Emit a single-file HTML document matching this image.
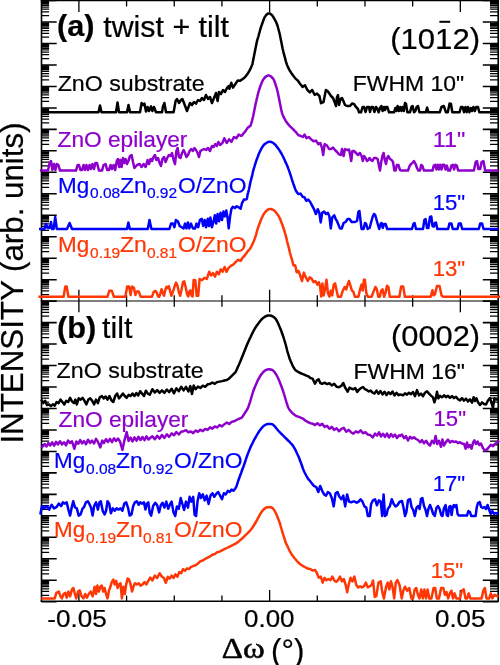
<!DOCTYPE html>
<html><head><meta charset="utf-8"><title>XRD rocking curves</title>
<style>html,body{margin:0;padding:0;background:#fff;overflow:hidden}svg{display:block}</style>
</head><body>
<svg width="500" height="665" viewBox="0 0 500 665" font-family='"Liberation Sans", Arial, Helvetica, sans-serif'>
<path d="M41.50 15.56h7.6M498.20 15.56h-8.2M41.50 11.78h7.6M498.20 11.78h-8.2M41.50 9.09h7.6M498.20 9.09h-8.2M41.50 7.01h7.6M498.20 7.01h-8.2M41.50 5.31h7.6M498.20 5.31h-8.2M41.50 3.88h7.6M498.20 3.88h-8.2M41.50 2.63h7.6M498.20 2.63h-8.2M41.50 1.53h7.6M498.20 1.53h-8.2M41.50 37.03h7.6M498.20 37.03h-8.2M41.50 33.25h7.6M498.20 33.25h-8.2M41.50 30.56h7.6M498.20 30.56h-8.2M41.50 28.48h7.6M498.20 28.48h-8.2M41.50 26.78h7.6M498.20 26.78h-8.2M41.50 25.35h7.6M498.20 25.35h-8.2M41.50 24.10h7.6M498.20 24.10h-8.2M41.50 23.00h7.6M498.20 23.00h-8.2M41.50 58.50h7.6M498.20 58.50h-8.2M41.50 54.72h7.6M498.20 54.72h-8.2M41.50 52.03h7.6M498.20 52.03h-8.2M41.50 49.95h7.6M498.20 49.95h-8.2M41.50 48.25h7.6M498.20 48.25h-8.2M41.50 46.82h7.6M498.20 46.82h-8.2M41.50 45.57h7.6M498.20 45.57h-8.2M41.50 44.47h7.6M498.20 44.47h-8.2M41.50 79.97h7.6M498.20 79.97h-8.2M41.50 76.19h7.6M498.20 76.19h-8.2M41.50 73.50h7.6M498.20 73.50h-8.2M41.50 71.42h7.6M498.20 71.42h-8.2M41.50 69.72h7.6M498.20 69.72h-8.2M41.50 68.29h7.6M498.20 68.29h-8.2M41.50 67.04h7.6M498.20 67.04h-8.2M41.50 65.94h7.6M498.20 65.94h-8.2M41.50 101.44h7.6M498.20 101.44h-8.2M41.50 97.66h7.6M498.20 97.66h-8.2M41.50 94.97h7.6M498.20 94.97h-8.2M41.50 92.89h7.6M498.20 92.89h-8.2M41.50 91.19h7.6M498.20 91.19h-8.2M41.50 89.76h7.6M498.20 89.76h-8.2M41.50 88.51h7.6M498.20 88.51h-8.2M41.50 87.41h7.6M498.20 87.41h-8.2M41.50 122.91h7.6M498.20 122.91h-8.2M41.50 119.13h7.6M498.20 119.13h-8.2M41.50 116.44h7.6M498.20 116.44h-8.2M41.50 114.36h7.6M498.20 114.36h-8.2M41.50 112.66h7.6M498.20 112.66h-8.2M41.50 111.23h7.6M498.20 111.23h-8.2M41.50 109.98h7.6M498.20 109.98h-8.2M41.50 108.88h7.6M498.20 108.88h-8.2M41.50 144.38h7.6M498.20 144.38h-8.2M41.50 140.60h7.6M498.20 140.60h-8.2M41.50 137.91h7.6M498.20 137.91h-8.2M41.50 135.83h7.6M498.20 135.83h-8.2M41.50 134.13h7.6M498.20 134.13h-8.2M41.50 132.70h7.6M498.20 132.70h-8.2M41.50 131.45h7.6M498.20 131.45h-8.2M41.50 130.35h7.6M498.20 130.35h-8.2M41.50 165.85h7.6M498.20 165.85h-8.2M41.50 162.07h7.6M498.20 162.07h-8.2M41.50 159.38h7.6M498.20 159.38h-8.2M41.50 157.30h7.6M498.20 157.30h-8.2M41.50 155.60h7.6M498.20 155.60h-8.2M41.50 154.17h7.6M498.20 154.17h-8.2M41.50 152.92h7.6M498.20 152.92h-8.2M41.50 151.82h7.6M498.20 151.82h-8.2M41.50 187.32h7.6M498.20 187.32h-8.2M41.50 183.54h7.6M498.20 183.54h-8.2M41.50 180.85h7.6M498.20 180.85h-8.2M41.50 178.77h7.6M498.20 178.77h-8.2M41.50 177.07h7.6M498.20 177.07h-8.2M41.50 175.64h7.6M498.20 175.64h-8.2M41.50 174.39h7.6M498.20 174.39h-8.2M41.50 173.29h7.6M498.20 173.29h-8.2M41.50 208.79h7.6M498.20 208.79h-8.2M41.50 205.01h7.6M498.20 205.01h-8.2M41.50 202.32h7.6M498.20 202.32h-8.2M41.50 200.24h7.6M498.20 200.24h-8.2M41.50 198.54h7.6M498.20 198.54h-8.2M41.50 197.11h7.6M498.20 197.11h-8.2M41.50 195.86h7.6M498.20 195.86h-8.2M41.50 194.76h7.6M498.20 194.76h-8.2M41.50 230.26h7.6M498.20 230.26h-8.2M41.50 226.48h7.6M498.20 226.48h-8.2M41.50 223.79h7.6M498.20 223.79h-8.2M41.50 221.71h7.6M498.20 221.71h-8.2M41.50 220.01h7.6M498.20 220.01h-8.2M41.50 218.58h7.6M498.20 218.58h-8.2M41.50 217.33h7.6M498.20 217.33h-8.2M41.50 216.23h7.6M498.20 216.23h-8.2M41.50 251.73h7.6M498.20 251.73h-8.2M41.50 247.95h7.6M498.20 247.95h-8.2M41.50 245.26h7.6M498.20 245.26h-8.2M41.50 243.18h7.6M498.20 243.18h-8.2M41.50 241.48h7.6M498.20 241.48h-8.2M41.50 240.05h7.6M498.20 240.05h-8.2M41.50 238.80h7.6M498.20 238.80h-8.2M41.50 237.70h7.6M498.20 237.70h-8.2M41.50 273.20h7.6M498.20 273.20h-8.2M41.50 269.42h7.6M498.20 269.42h-8.2M41.50 266.73h7.6M498.20 266.73h-8.2M41.50 264.65h7.6M498.20 264.65h-8.2M41.50 262.95h7.6M498.20 262.95h-8.2M41.50 261.52h7.6M498.20 261.52h-8.2M41.50 260.27h7.6M498.20 260.27h-8.2M41.50 259.17h7.6M498.20 259.17h-8.2M41.50 294.67h7.6M498.20 294.67h-8.2M41.50 290.89h7.6M498.20 290.89h-8.2M41.50 288.20h7.6M498.20 288.20h-8.2M41.50 286.12h7.6M498.20 286.12h-8.2M41.50 284.42h7.6M498.20 284.42h-8.2M41.50 282.99h7.6M498.20 282.99h-8.2M41.50 281.74h7.6M498.20 281.74h-8.2M41.50 280.64h7.6M498.20 280.64h-8.2M41.50 316.14h7.6M498.20 316.14h-8.2M41.50 312.36h7.6M498.20 312.36h-8.2M41.50 309.67h7.6M498.20 309.67h-8.2M41.50 307.59h7.6M498.20 307.59h-8.2M41.50 305.89h7.6M498.20 305.89h-8.2M41.50 304.46h7.6M498.20 304.46h-8.2M41.50 303.21h7.6M498.20 303.21h-8.2M41.50 302.11h7.6M498.20 302.11h-8.2M41.50 337.61h7.6M498.20 337.61h-8.2M41.50 333.83h7.6M498.20 333.83h-8.2M41.50 331.14h7.6M498.20 331.14h-8.2M41.50 329.06h7.6M498.20 329.06h-8.2M41.50 327.36h7.6M498.20 327.36h-8.2M41.50 325.93h7.6M498.20 325.93h-8.2M41.50 324.68h7.6M498.20 324.68h-8.2M41.50 323.58h7.6M498.20 323.58h-8.2M41.50 359.08h7.6M498.20 359.08h-8.2M41.50 355.30h7.6M498.20 355.30h-8.2M41.50 352.61h7.6M498.20 352.61h-8.2M41.50 350.53h7.6M498.20 350.53h-8.2M41.50 348.83h7.6M498.20 348.83h-8.2M41.50 347.40h7.6M498.20 347.40h-8.2M41.50 346.15h7.6M498.20 346.15h-8.2M41.50 345.05h7.6M498.20 345.05h-8.2M41.50 380.55h7.6M498.20 380.55h-8.2M41.50 376.77h7.6M498.20 376.77h-8.2M41.50 374.08h7.6M498.20 374.08h-8.2M41.50 372.00h7.6M498.20 372.00h-8.2M41.50 370.30h7.6M498.20 370.30h-8.2M41.50 368.87h7.6M498.20 368.87h-8.2M41.50 367.62h7.6M498.20 367.62h-8.2M41.50 366.52h7.6M498.20 366.52h-8.2M41.50 402.02h7.6M498.20 402.02h-8.2M41.50 398.24h7.6M498.20 398.24h-8.2M41.50 395.55h7.6M498.20 395.55h-8.2M41.50 393.47h7.6M498.20 393.47h-8.2M41.50 391.77h7.6M498.20 391.77h-8.2M41.50 390.34h7.6M498.20 390.34h-8.2M41.50 389.09h7.6M498.20 389.09h-8.2M41.50 387.99h7.6M498.20 387.99h-8.2M41.50 423.49h7.6M498.20 423.49h-8.2M41.50 419.71h7.6M498.20 419.71h-8.2M41.50 417.02h7.6M498.20 417.02h-8.2M41.50 414.94h7.6M498.20 414.94h-8.2M41.50 413.24h7.6M498.20 413.24h-8.2M41.50 411.81h7.6M498.20 411.81h-8.2M41.50 410.56h7.6M498.20 410.56h-8.2M41.50 409.46h7.6M498.20 409.46h-8.2M41.50 444.96h7.6M498.20 444.96h-8.2M41.50 441.18h7.6M498.20 441.18h-8.2M41.50 438.49h7.6M498.20 438.49h-8.2M41.50 436.41h7.6M498.20 436.41h-8.2M41.50 434.71h7.6M498.20 434.71h-8.2M41.50 433.28h7.6M498.20 433.28h-8.2M41.50 432.03h7.6M498.20 432.03h-8.2M41.50 430.93h7.6M498.20 430.93h-8.2M41.50 466.43h7.6M498.20 466.43h-8.2M41.50 462.65h7.6M498.20 462.65h-8.2M41.50 459.96h7.6M498.20 459.96h-8.2M41.50 457.88h7.6M498.20 457.88h-8.2M41.50 456.18h7.6M498.20 456.18h-8.2M41.50 454.75h7.6M498.20 454.75h-8.2M41.50 453.50h7.6M498.20 453.50h-8.2M41.50 452.40h7.6M498.20 452.40h-8.2M41.50 487.90h7.6M498.20 487.90h-8.2M41.50 484.12h7.6M498.20 484.12h-8.2M41.50 481.43h7.6M498.20 481.43h-8.2M41.50 479.35h7.6M498.20 479.35h-8.2M41.50 477.65h7.6M498.20 477.65h-8.2M41.50 476.22h7.6M498.20 476.22h-8.2M41.50 474.97h7.6M498.20 474.97h-8.2M41.50 473.87h7.6M498.20 473.87h-8.2M41.50 509.37h7.6M498.20 509.37h-8.2M41.50 505.59h7.6M498.20 505.59h-8.2M41.50 502.90h7.6M498.20 502.90h-8.2M41.50 500.82h7.6M498.20 500.82h-8.2M41.50 499.12h7.6M498.20 499.12h-8.2M41.50 497.69h7.6M498.20 497.69h-8.2M41.50 496.44h7.6M498.20 496.44h-8.2M41.50 495.34h7.6M498.20 495.34h-8.2M41.50 530.84h7.6M498.20 530.84h-8.2M41.50 527.06h7.6M498.20 527.06h-8.2M41.50 524.37h7.6M498.20 524.37h-8.2M41.50 522.29h7.6M498.20 522.29h-8.2M41.50 520.59h7.6M498.20 520.59h-8.2M41.50 519.16h7.6M498.20 519.16h-8.2M41.50 517.91h7.6M498.20 517.91h-8.2M41.50 516.81h7.6M498.20 516.81h-8.2M41.50 552.31h7.6M498.20 552.31h-8.2M41.50 548.53h7.6M498.20 548.53h-8.2M41.50 545.84h7.6M498.20 545.84h-8.2M41.50 543.76h7.6M498.20 543.76h-8.2M41.50 542.06h7.6M498.20 542.06h-8.2M41.50 540.63h7.6M498.20 540.63h-8.2M41.50 539.38h7.6M498.20 539.38h-8.2M41.50 538.28h7.6M498.20 538.28h-8.2M41.50 573.78h7.6M498.20 573.78h-8.2M41.50 570.00h7.6M498.20 570.00h-8.2M41.50 567.31h7.6M498.20 567.31h-8.2M41.50 565.23h7.6M498.20 565.23h-8.2M41.50 563.53h7.6M498.20 563.53h-8.2M41.50 562.10h7.6M498.20 562.10h-8.2M41.50 560.85h7.6M498.20 560.85h-8.2M41.50 559.75h7.6M498.20 559.75h-8.2M41.50 595.25h7.6M498.20 595.25h-8.2M41.50 591.47h7.6M498.20 591.47h-8.2M41.50 588.78h7.6M498.20 588.78h-8.2M41.50 586.70h7.6M498.20 586.70h-8.2M41.50 585.00h7.6M498.20 585.00h-8.2M41.50 583.57h7.6M498.20 583.57h-8.2M41.50 582.32h7.6M498.20 582.32h-8.2M41.50 581.22h7.6M498.20 581.22h-8.2" stroke="#000" stroke-width="1.25" fill="none"/>
<path d="M41.50 0.55h15.2M498.20 0.55h-15.4M41.50 22.02h15.2M498.20 22.02h-15.4M41.50 43.49h15.2M498.20 43.49h-15.4M41.50 64.96h15.2M498.20 64.96h-15.4M41.50 86.43h15.2M498.20 86.43h-15.4M41.50 107.90h15.2M498.20 107.90h-15.4M41.50 129.37h15.2M498.20 129.37h-15.4M41.50 150.84h15.2M498.20 150.84h-15.4M41.50 172.31h15.2M498.20 172.31h-15.4M41.50 193.78h15.2M498.20 193.78h-15.4M41.50 215.25h15.2M498.20 215.25h-15.4M41.50 236.72h15.2M498.20 236.72h-15.4M41.50 258.19h15.2M498.20 258.19h-15.4M41.50 279.66h15.2M498.20 279.66h-15.4M41.50 301.13h15.2M498.20 301.13h-15.4M41.50 322.60h15.2M498.20 322.60h-15.4M41.50 344.07h15.2M498.20 344.07h-15.4M41.50 365.54h15.2M498.20 365.54h-15.4M41.50 387.01h15.2M498.20 387.01h-15.4M41.50 408.48h15.2M498.20 408.48h-15.4M41.50 429.95h15.2M498.20 429.95h-15.4M41.50 451.42h15.2M498.20 451.42h-15.4M41.50 472.89h15.2M498.20 472.89h-15.4M41.50 494.36h15.2M498.20 494.36h-15.4M41.50 515.83h15.2M498.20 515.83h-15.4M41.50 537.30h15.2M498.20 537.30h-15.4M41.50 558.77h15.2M498.20 558.77h-15.4M41.50 580.24h15.2M498.20 580.24h-15.4M41.50 601.71h15.2M498.20 601.71h-15.4" stroke="#000" stroke-width="1.55" fill="none"/>
<path d="M78.90 0v11.9M78.90 289.70v22.6M78.90 601.30v-11.3M126.58 0v6.4M126.58 295.20v11.6M126.58 601.30v-5.8M174.26 0v6.4M174.26 295.20v11.6M174.26 601.30v-5.8M221.94 0v6.4M221.94 295.20v11.6M221.94 601.30v-5.8M269.62 0v11.9M269.62 289.70v22.6M269.62 601.30v-11.3M317.30 0v6.4M317.30 295.20v11.6M317.30 601.30v-5.8M364.98 0v6.4M364.98 295.20v11.6M364.98 601.30v-5.8M412.66 0v6.4M412.66 295.20v11.6M412.66 601.30v-5.8M460.34 0v11.9M460.34 289.70v22.6M460.34 601.30v-11.3" stroke="#000" stroke-width="1.3" fill="none"/>
<path d="M41.5 0V602.05M498.2 0V602.05" stroke="#000" stroke-width="1.6" fill="none"/>
<path d="M40.7 0.6H499.0" stroke="#000" stroke-width="1.3" fill="none"/>
<path d="M40.7 301.0H499.0" stroke="#000" stroke-width="1.2" fill="none"/>
<path d="M40.7 601.3H499.0" stroke="#000" stroke-width="1.5" fill="none"/>
<polyline points="41.0,112.3 98.5,112.3 100.0,105.5 101.5,112.3 116.0,112.3 117.5,102.5 119.0,112.3 127.0,112.3 128.5,105.0 130.0,112.3 140.0,112.3 141.6,103.0 143.0,105.0 144.4,103.6 146.0,111.6 147.6,107.0 149.0,111.0 151.0,106.4 152.4,111.0 154.0,107.0 156.0,112.3 162.0,112.3 163.0,106.4 164.4,103.0 166.0,112.3 173.6,112.3 175.6,101.0 177.0,99.0 179.0,103.0 181.0,100.0 182.4,99.0 184.0,103.0 187.0,111.0 190.0,103.0 192.0,105.0 194.0,102.0 196.0,103.6 198.0,100.0 200.0,101.0 202.0,98.0 204.0,100.0 206.0,95.0 208.0,99.0 210.0,97.0 212.0,103.0 214.0,98.0 216.0,93.0 217.6,101.0 219.0,92.0 221.0,94.0 223.0,90.0 225.0,92.0 227.0,88.0 229.0,86.0 229.4,88.8 231.3,82.8 233.0,87.6 235.4,84.0 237.8,80.4 240.2,80.7 241.1,80.1 242.3,79.3 243.7,78.3 245.0,77.1 246.1,75.8 247.2,74.2 248.3,72.7 249.2,71.1 250.0,69.6 250.8,68.1 251.4,66.6 252.0,65.1 252.5,63.6 252.8,62.1 253.1,60.6 253.4,59.1 253.7,57.6 254.0,56.1 254.3,54.6 254.6,53.1 254.9,51.6 255.2,50.1 255.5,48.6 255.8,47.1 256.1,45.6 256.4,44.1 256.7,42.6 257.0,41.1 257.4,39.6 257.9,38.1 258.4,36.5 258.8,35.0 259.2,33.5 259.6,32.0 260.0,30.5 260.4,29.0 260.9,27.5 261.3,26.0 261.9,24.5 262.4,23.0 263.0,21.4 263.6,19.8 264.2,18.3 264.8,17.0 265.4,16.1 265.9,15.3 266.5,14.8 267.0,14.3 267.5,13.9 268.0,13.6 268.5,13.5 269.0,13.4 269.5,13.5 270.0,13.6 270.5,13.9 271.0,14.3 271.5,14.8 272.1,15.3 272.7,16.1 273.3,17.0 274.1,18.3 274.9,19.8 275.8,21.4 276.5,23.0 277.1,24.5 277.6,26.0 278.0,27.5 278.4,29.0 278.8,30.5 279.2,32.0 279.6,33.5 279.9,35.0 280.2,36.5 280.5,38.0 280.8,39.6 281.1,41.1 281.4,42.6 281.7,44.1 282.0,45.6 282.3,47.1 282.6,48.6 283.0,50.1 283.3,51.6 283.7,53.1 284.1,54.6 284.5,56.1 284.9,57.6 285.3,59.1 285.7,60.6 286.1,62.1 286.6,63.6 287.1,65.1 287.7,66.6 288.5,68.1 289.2,69.6 290.1,71.1 291.1,72.7 292.2,74.2 293.3,75.8 294.3,77.1 295.3,78.3 296.4,79.3 297.3,80.1 297.9,80.7 300.2,84.0 302.6,86.9 305.0,85.2 307.4,90.0 309.8,92.4 312.2,90.0 314.6,94.8 317.0,93.6 319.4,96.0 321.0,103.2 323.5,102.0 325.9,90.0 327.8,91.2 329.0,93.0 331.0,96.0 333.0,98.0 335.0,103.0 336.0,106.0 337.0,97.0 338.0,95.0 339.0,105.0 340.6,99.0 342.0,98.0 343.4,101.0 345.0,105.0 347.0,106.0 350.0,106.0 352.0,103.6 354.0,104.0 356.0,107.0 358.0,109.0 359.0,112.3 361.0,112.3 362.6,107.0 364.0,107.0 365.6,112.0 367.0,107.0 369.0,107.0 370.0,112.0 371.4,107.0 373.0,107.0 374.4,112.0 376.0,107.0 377.4,109.0 378.6,112.3 380.0,108.0 381.4,106.0 382.6,111.0 384.0,107.0 385.0,110.0 386.0,107.0 387.4,107.0 389.0,112.3 394.0,112.3 395.4,108.0 396.6,111.0 397.6,106.0 399.0,111.0 400.2,107.0 401.4,111.0 402.6,107.0 403.8,111.0 405.0,103.0 406.0,104.0 407.4,112.3 410.0,112.3 411.4,107.0 412.6,106.0 414.0,112.3 415.4,111.0 416.6,107.0 418.0,106.0 419.4,112.3 425.8,112.3 427.1,107.5 428.4,112.3 439.7,112.3 441.5,107.0 443.8,106.0 446.0,112.3 447.8,112.3 449.6,103.5 451.0,104.0 452.3,112.3 459.5,112.3 461.0,107.0 462.6,107.0 464.0,112.3 465.4,107.0 466.7,112.3 468.0,107.0 469.4,112.3 470.8,108.0 472.0,111.0 473.4,107.0 474.8,111.0 476.2,107.0 478.0,107.0 479.3,112.3 498.0,112.3" fill="none" stroke="#000000" stroke-width="2.5" stroke-linejoin="round" stroke-linecap="butt"/>
<polyline points="40.0,170.6 48.0,170.6 49.6,163.0 51.0,161.0 52.4,170.0 54.0,164.0 55.4,170.0 56.8,164.0 58.4,165.0 60.0,170.6 76.0,170.6 77.6,165.0 79.0,165.0 80.4,170.0 82.0,170.0 83.6,165.0 85.0,170.0 86.4,165.0 88.0,170.0 89.6,165.0 91.0,169.0 92.4,164.0 94.0,169.0 95.4,163.0 97.0,163.0 99.0,170.6 102.0,170.6 103.6,165.0 105.6,164.0 107.2,170.0 109.0,170.0 110.6,165.0 112.0,169.0 113.6,165.0 115.2,170.0 116.8,161.0 118.0,159.0 119.2,167.0 120.4,160.0 121.6,167.0 123.0,158.0 124.4,163.0 125.6,159.0 127.0,164.0 128.4,161.0 130.0,156.0 131.6,155.0 133.0,162.0 134.4,168.0 137.0,165.0 139.6,164.0 141.6,167.0 143.6,164.0 145.6,167.0 147.6,160.0 149.0,164.0 150.6,159.0 152.0,161.0 153.6,157.0 155.0,155.0 156.4,160.0 158.0,158.0 159.6,163.0 161.0,166.0 162.4,159.0 164.0,157.0 165.6,162.0 167.2,158.0 168.8,155.0 170.4,156.0 172.0,153.0 173.6,160.0 175.0,164.0 176.4,151.0 177.6,148.0 179.0,157.0 180.4,158.0 182.0,153.0 183.6,150.0 185.0,153.0 186.4,157.0 188.0,155.0 189.6,151.0 191.2,149.0 192.8,151.0 194.4,148.0 196.0,150.0 197.6,153.0 199.0,157.0 200.4,151.0 202.0,150.0 204.0,149.0 206.0,150.0 208.0,148.0 210.0,151.0 212.0,146.0 213.6,147.0 215.2,144.0 216.8,146.0 218.4,142.0 220.0,145.0 222.4,143.0 224.3,138.2 226.7,143.0 229.1,139.4 231.5,141.8 233.9,137.0 236.3,138.2 238.7,134.6 241.1,135.8 242.0,135.3 242.6,134.7 243.3,133.7 244.2,132.7 245.0,131.7 245.7,130.8 246.3,129.8 246.9,128.9 247.4,128.1 247.9,127.6 248.4,127.2 248.8,126.9 249.2,126.6 249.5,126.4 249.8,126.3 250.1,126.1 250.4,125.7 250.7,125.0 251.0,124.2 251.3,123.2 251.6,122.1 252.0,120.8 252.4,119.2 252.8,117.7 253.2,116.1 253.5,114.6 253.8,113.1 254.1,111.6 254.4,110.1 254.7,108.6 255.0,107.1 255.3,105.6 255.6,104.1 255.9,102.6 256.3,101.0 256.6,99.5 257.0,98.0 257.4,96.5 257.7,95.0 258.1,93.5 258.5,92.0 258.9,90.5 259.4,89.0 259.9,87.5 260.4,86.0 261.0,84.4 261.7,82.8 262.4,81.2 263.0,80.0 263.5,79.1 264.0,78.5 264.4,78.1 264.8,77.6 265.2,77.1 265.7,76.7 266.1,76.4 266.6,76.1 267.1,75.9 267.5,75.7 268.0,75.5 268.5,75.5 269.0,75.5 269.5,75.7 269.9,75.9 270.4,76.1 270.8,76.4 271.3,76.7 271.7,77.1 272.1,77.6 272.5,78.1 273.0,78.5 273.4,79.1 273.9,80.0 274.4,81.2 275.0,82.8 275.5,84.4 276.0,86.0 276.5,87.5 276.9,89.0 277.3,90.5 277.7,92.0 278.0,93.5 278.3,95.0 278.6,96.5 278.9,98.0 279.2,99.5 279.5,101.0 279.8,102.6 280.1,104.1 280.4,105.6 280.7,107.1 281.0,108.6 281.3,110.1 281.7,111.6 282.1,113.1 282.6,114.6 283.2,116.1 283.9,117.7 284.8,119.2 285.7,120.8 286.5,122.1 287.3,123.2 288.1,124.1 288.8,124.9 289.5,125.7 290.1,126.4 290.7,126.9 291.2,127.4 291.9,128.1 292.7,128.9 293.7,129.8 294.6,130.8 295.5,131.7 296.4,132.7 297.2,133.7 298.0,134.7 298.5,135.3 300.4,135.8 302.8,137.0 304.5,134.6 306.4,138.2 308.8,137.0 311.2,139.4 313.6,141.3 316.0,140.6 318.4,144.2 320.3,143.0 322.0,147.8 323.2,155.0 324.6,144.2 326.8,145.4 329.2,149.0 331.0,149.0 333.0,147.6 335.0,150.0 337.0,152.0 339.0,154.4 341.0,155.0 342.0,149.0 343.6,156.0 345.0,149.0 347.0,150.0 349.0,149.6 350.0,154.0 351.2,161.0 352.4,151.0 354.0,151.0 356.0,153.0 358.0,155.0 360.0,153.0 361.6,156.0 362.8,161.0 364.0,156.0 365.6,158.0 367.0,161.0 368.4,160.0 369.6,158.0 371.0,160.0 372.4,161.0 374.0,158.0 376.0,158.0 377.6,159.0 378.8,165.0 380.0,170.6 381.2,162.0 382.4,156.0 383.6,153.0 384.8,160.0 386.0,164.0 387.2,158.0 388.4,156.0 390.0,159.0 391.6,160.0 393.0,162.0 394.4,170.6 395.6,170.6 396.8,165.0 398.4,165.0 400.0,170.0 401.6,170.6 408.0,170.6 409.6,166.0 411.0,164.0 412.4,163.0 414.0,161.0 415.6,164.0 417.0,168.0 418.4,170.6 420.0,170.6 421.2,165.0 422.4,166.0 424.0,170.6 432.5,170.6 433.8,165.6 435.2,164.7 436.5,169.5 437.7,164.7 439.0,169.5 440.2,164.7 441.5,169.5 442.8,164.7 444.2,164.7 445.5,169.5 446.9,165.6 448.2,170.6 450.0,170.6 451.4,165.6 452.8,164.7 454.1,169.5 455.4,164.7 456.8,165.6 458.2,170.6 473.9,170.6 475.7,162.0 477.0,161.0 478.4,169.0 480.2,169.0 481.6,162.0 483.4,161.0 485.2,170.6 498.5,170.6" fill="none" stroke="#8e00cc" stroke-width="2.5" stroke-linejoin="round" stroke-linecap="butt"/>
<polyline points="39.0,229.0 44.4,229.0 46.0,224.0 47.6,228.0 49.6,228.0 51.0,222.0 52.0,229.0 53.6,229.0 55.2,217.0 56.8,229.0 67.0,229.0 69.6,223.0 72.0,229.0 127.0,229.0 128.4,222.6 129.8,229.0 147.8,229.0 149.5,220.0 151.4,229.0 169.4,229.0 171.0,223.6 173.0,223.6 174.4,227.2 175.9,220.0 177.8,221.2 179.7,226.0 181.6,227.2 183.6,228.4 185.0,223.6 186.4,228.4 187.9,222.4 189.3,228.4 191.0,223.6 192.9,228.4 195.1,228.4 196.5,223.6 198.2,227.2 199.9,220.0 201.8,218.8 203.2,226.0 204.7,220.0 206.1,227.2 207.8,218.8 209.0,226.0 210.4,217.6 211.9,227.2 213.3,222.4 214.8,215.2 216.2,223.6 217.6,214.0 219.1,221.2 220.5,212.8 222.0,220.0 223.4,211.6 224.8,216.4 226.3,210.4 227.7,218.8 228.7,228.4 230.1,216.4 231.4,209.0 232.9,206.8 234.8,208.0 236.7,206.3 238.6,207.3 240.6,208.7 242.0,203.2 243.9,199.6 245.6,199.6 246.8,198.9 247.0,198.0 247.2,196.7 247.5,195.2 247.7,194.1 247.9,193.4 248.1,192.8 248.2,192.3 248.4,191.7 248.6,190.9 248.8,190.1 249.0,189.2 249.2,188.1 249.5,186.8 249.8,185.2 250.1,183.7 250.4,182.1 250.8,180.6 251.2,179.1 251.6,177.6 252.0,176.1 252.4,174.6 252.7,173.1 253.0,171.6 253.4,170.1 253.8,168.6 254.3,167.1 254.7,165.6 255.2,164.1 255.7,162.6 256.2,161.0 256.7,159.5 257.3,158.0 257.9,156.5 258.4,155.0 259.0,153.5 259.7,152.0 260.5,150.4 261.3,148.8 262.2,147.2 263.0,146.0 263.7,145.1 264.3,144.5 264.8,144.0 265.4,143.6 266.0,143.2 266.5,142.8 267.1,142.5 267.6,142.2 268.1,142.0 268.6,141.9 269.1,141.8 269.6,141.8 270.1,141.8 270.7,141.9 271.3,142.0 271.8,142.2 272.3,142.5 272.8,142.8 273.4,143.2 273.9,143.6 274.4,144.0 275.0,144.5 275.6,145.1 276.3,146.0 277.2,147.2 278.4,148.8 279.5,150.4 280.5,152.0 281.4,153.5 282.2,155.0 283.0,156.5 283.7,158.0 284.4,159.5 285.1,161.1 285.8,162.6 286.5,164.1 287.1,165.6 287.8,167.1 288.3,168.6 288.9,170.1 289.4,171.6 289.9,173.1 290.4,174.6 290.9,176.1 291.4,177.6 291.8,179.1 292.3,180.6 292.8,182.1 293.3,183.7 293.9,185.2 294.4,186.8 294.9,188.1 295.3,189.2 295.7,190.1 296.1,190.9 296.5,191.7 297.0,192.4 297.6,193.1 298.1,193.7 298.5,194.1 300.6,193.6 302.5,196.7 304.4,197.2 306.3,200.8 308.2,199.6 310.2,202.0 312.1,205.6 314.0,209.2 315.9,214.0 317.8,209.2 319.3,212.8 320.7,222.4 322.2,212.8 324.1,211.6 326.0,214.0 327.9,212.8 329.4,216.4 330.8,228.4 332.2,217.6 334.2,215.2 335.6,218.8 337.0,221.2 338.5,224.8 339.9,228.4 341.8,228.4 343.6,223.0 345.6,222.0 347.6,219.0 349.6,219.0 351.6,222.0 355.0,222.0 357.0,221.0 358.4,212.0 359.4,211.0 360.6,221.0 361.6,229.0 363.6,229.0 365.0,223.0 366.2,224.0 367.6,229.0 369.6,228.0 371.2,222.0 372.6,217.0 374.0,214.0 375.2,215.0 376.6,220.0 378.0,225.0 379.2,229.0 380.6,224.0 381.6,223.0 382.8,228.0 384.0,224.0 385.6,224.0 387.2,229.0 412.0,229.0 413.4,224.0 414.6,223.0 416.0,229.0 423.0,229.0 424.4,220.0 425.6,219.0 427.0,228.0 428.4,228.0 430.0,217.0 431.3,216.5 432.5,226.0 433.8,226.5 434.8,223.0 436.0,222.6 437.3,229.0 448.1,229.0 449.5,223.4 451.4,223.4 452.8,229.0 457.5,229.0 458.9,223.4 460.7,223.4 462.2,229.0 478.8,229.0 480.2,223.4 482.0,223.4 483.5,229.0 498.3,229.0" fill="none" stroke="#0000fa" stroke-width="2.5" stroke-linejoin="round" stroke-linecap="butt"/>
<polyline points="38.4,296.7 63.6,296.7 65.3,286.6 66.7,286.6 68.4,296.7 107.5,296.7 109.4,290.7 111.8,290.7 113.8,296.7 125.3,296.7 127.2,286.6 129.1,286.6 130.6,295.0 132.0,286.6 133.9,287.8 135.4,295.0 136.8,291.4 138.7,291.4 140.6,296.7 152.0,296.7 153.8,291.6 155.6,291.0 156.8,292.8 158.0,296.4 159.2,296.7 160.4,293.4 161.6,289.2 162.8,292.8 164.0,295.8 165.2,290.4 166.4,286.8 167.6,288.0 168.8,286.2 170.0,290.4 171.4,295.8 173.0,291.6 174.8,285.6 176.0,282.6 177.4,285.6 179.0,292.8 180.2,295.8 181.4,290.4 183.0,282.0 184.2,281.4 185.6,286.8 187.0,294.0 188.2,296.4 189.4,291.6 190.4,290.4 191.6,295.8 192.6,296.4 193.6,280.0 195.3,280.2 196.7,295.8 198.2,295.8 199.6,279.0 202.0,280.2 204.4,277.8 206.8,279.0 209.2,271.8 211.1,275.4 213.0,273.0 215.0,276.6 216.9,271.8 218.8,274.2 220.7,269.4 222.6,271.8 224.6,267.0 226.5,271.8 228.4,268.2 230.8,265.8 233.2,264.6 235.6,262.2 238.0,259.8 239.0,260.1 239.3,260.3 239.8,260.6 240.3,260.8 240.8,260.7 241.2,260.3 241.5,259.6 241.8,258.8 242.2,258.2 242.6,257.7 243.0,257.3 243.4,256.9 243.8,256.5 244.1,256.2 244.2,256.0 244.5,255.8 244.8,255.3 245.3,254.6 246.0,253.7 246.7,252.7 247.4,251.7 248.1,250.9 248.9,250.0 249.6,249.2 250.4,248.1 251.2,246.8 251.9,245.2 252.7,243.7 253.4,242.1 254.0,240.6 254.6,239.1 255.1,237.6 255.6,236.1 256.1,234.6 256.5,233.0 256.9,231.5 257.3,230.0 257.8,228.5 258.3,227.0 258.8,225.5 259.4,224.0 260.0,222.4 260.6,220.8 261.2,219.3 261.8,218.0 262.3,216.9 262.7,216.0 263.1,215.2 263.6,214.4 264.2,213.4 265.0,212.5 265.7,211.5 266.4,210.8 267.0,210.3 267.5,209.9 267.9,209.6 268.4,209.4 268.9,209.2 269.3,209.1 269.7,209.0 270.2,209.0 270.7,209.0 271.2,209.1 271.8,209.3 272.3,209.5 272.8,209.7 273.3,210.0 273.9,210.3 274.5,210.8 275.2,211.5 276.0,212.5 276.8,213.4 277.5,214.4 278.1,215.2 278.6,216.0 279.1,216.9 279.6,218.0 280.2,219.3 280.8,220.8 281.4,222.4 282.0,224.0 282.6,225.5 283.1,227.0 283.6,228.5 284.1,230.0 284.6,231.5 285.0,233.1 285.5,234.6 285.9,236.1 286.3,237.6 286.6,239.1 286.9,240.6 287.3,242.1 287.7,243.7 288.1,245.2 288.6,246.8 288.9,248.1 289.2,249.2 289.3,250.1 289.5,250.9 289.7,251.7 289.9,252.6 290.2,253.6 290.5,254.5 290.7,255.3 290.9,256.0 291.1,256.6 291.2,257.1 291.4,257.7 291.6,258.2 291.7,258.8 291.9,259.3 292.1,260.1 292.4,261.2 292.7,262.6 293.0,264.0 293.3,264.9 293.5,265.3 293.8,265.4 294.0,265.3 294.2,265.3 294.5,265.3 294.8,265.3 295.1,265.4 295.4,266.0 295.7,267.3 296.0,269.2 296.3,271.0 296.7,272.1 297.2,272.3 297.7,271.9 298.2,271.3 298.5,270.9 300.1,275.0 302.0,281.0 303.9,272.6 305.8,277.4 307.8,281.0 309.7,277.4 311.6,278.6 313.5,282.2 315.4,281.0 317.4,284.6 318.8,282.2 320.2,287.0 321.2,296.6 322.4,283.4 323.6,295.4 325.0,289.4 326.5,279.8 327.9,293.0 329.4,296.6 330.8,290.6 332.2,295.4 333.7,284.6 335.1,283.4 336.6,290.6 338.0,296.7 340.9,296.7 342.8,290.6 344.7,287.0 346.2,289.4 347.6,284.6 349.0,281.0 350.5,285.8 351.9,290.6 353.4,291.8 354.8,296.7 358.4,296.7 360.1,289.4 361.5,284.6 362.7,290.6 363.9,279.8 364.9,279.8 366.3,293.0 367.8,296.7 371.6,296.7 373.5,291.8 375.4,287.0 376.9,289.4 378.3,296.7 379.8,296.7 381.2,290.6 382.6,289.4 384.1,296.7 385.5,293.0 387.0,285.8 388.4,287.0 389.8,296.7 399.4,296.7 401.1,286.6 403.2,286.6 404.9,296.7 430.7,296.7 432.4,290.2 433.7,295.4 434.9,294.4 437.0,286.0 439.5,286.0 441.6,295.4 443.3,296.7 500.0,296.7" fill="none" stroke="#ff3705" stroke-width="2.5" stroke-linejoin="round" stroke-linecap="butt"/>
<polyline points="41.3,399.6 43.2,403.2 45.1,400.8 47.0,405.1 49.0,404.4 50.9,406.1 52.8,404.4 54.7,405.6 56.6,402.0 58.6,403.2 60.5,399.6 62.4,402.0 64.3,404.4 66.2,400.8 68.2,402.0 70.1,397.9 72.0,401.3 73.9,403.2 75.4,399.6 76.8,404.4 78.7,398.4 80.6,399.6 82.6,397.9 84.5,400.8 86.4,404.4 88.3,399.6 90.2,398.4 92.2,400.8 94.1,404.4 96.0,399.6 97.9,403.2 99.8,397.2 101.8,396.0 103.7,398.4 105.6,396.5 107.5,399.6 109.4,396.0 111.4,400.3 113.3,402.0 115.2,396.0 117.1,393.6 119.0,398.4 121.0,396.0 122.9,393.6 124.8,396.0 126.7,397.9 128.6,394.8 130.6,396.0 132.5,393.6 134.4,396.0 136.3,393.1 138.2,395.5 140.2,391.2 142.1,393.6 144.0,396.0 145.9,390.7 147.8,393.6 149.8,394.8 152.4,389.2 154.8,392.5 157.2,390.2 159.6,392.9 162.0,390.4 164.4,392.9 166.8,389.5 169.2,392.1 171.6,388.7 174.0,393.3 176.4,388.3 178.8,391.2 181.2,386.8 183.6,390.4 186.0,386.9 188.4,391.5 190.3,386.1 192.0,393.9 193.7,385.5 195.6,389.2 198.0,386.6 200.4,388.0 202.8,385.7 205.2,386.8 207.6,384.3 210.0,383.9 212.4,382.5 214.8,383.8 217.2,382.1 219.6,381.6 222.0,381.1 224.4,380.5 226.8,380.0 229.0,378.6 229.6,378.0 230.4,377.2 231.3,376.3 232.2,375.4 233.0,374.6 233.9,373.8 234.7,373.0 235.4,372.2 235.9,371.5 236.2,370.9 236.5,370.1 237.0,369.0 237.7,367.3 238.7,365.3 239.6,363.1 240.5,361.0 241.3,359.0 242.1,357.0 242.9,355.0 243.7,353.0 244.5,351.0 245.3,349.0 246.1,347.0 246.9,345.0 247.8,343.0 248.7,341.0 249.6,339.0 250.6,337.0 251.5,335.0 252.5,333.0 253.5,331.0 254.6,329.0 255.9,326.9 257.4,324.7 258.9,322.7 260.2,321.0 261.2,319.8 262.0,319.0 262.7,318.4 263.4,317.8 264.2,317.2 264.9,316.7 265.7,316.3 266.4,316.0 267.1,315.7 267.7,315.5 268.3,315.4 269.0,315.4 269.7,315.4 270.4,315.5 271.1,315.7 271.8,316.0 272.5,316.3 273.2,316.7 273.9,317.2 274.6,317.8 275.2,318.4 275.8,319.0 276.3,319.8 277.0,321.0 277.8,322.7 278.7,324.7 279.6,326.9 280.5,329.0 281.3,331.0 282.0,333.0 282.7,335.0 283.4,337.0 284.0,339.0 284.6,341.0 285.2,343.0 285.8,345.0 286.3,347.0 286.8,349.0 287.3,351.0 287.9,353.0 288.5,355.0 289.1,357.0 289.8,359.0 290.6,361.0 291.5,363.1 292.5,365.3 293.6,367.3 294.6,369.0 295.5,370.1 296.4,370.9 297.4,371.5 298.6,372.2 300.3,373.0 302.3,373.9 304.2,374.7 305.8,375.4 307.0,375.9 307.8,376.2 308.5,376.5 309.0,376.7 310.2,378.0 312.6,378.6 315.0,383.7 316.9,380.3 318.6,379.2 320.3,383.0 322.2,383.8 324.6,382.7 327.0,384.1 329.4,383.3 331.8,385.4 334.2,383.7 336.6,386.8 339.0,387.3 341.4,385.7 343.3,383.1 345.2,387.7 347.6,391.6 349.6,387.5 351.5,388.7 353.4,389.3 355.3,388.1 357.2,391.9 359.2,389.4 361.1,388.0 363.0,387.0 364.9,389.2 366.8,390.0 368.8,391.4 370.7,390.6 372.6,392.6 374.5,393.5 376.5,390.6 378.5,393.8 380.5,391.1 382.5,394.4 384.5,391.7 386.5,395.0 388.5,392.2 390.5,394.2 392.5,391.5 394.5,395.4 396.5,392.7 398.5,395.3 400.0,394.4 403.0,395.3 405.0,393.4 407.0,394.6 409.0,392.7 411.0,394.2 413.0,392.0 415.0,396.2 417.0,390.1 419.0,395.4 421.0,393.6 423.0,396.2 425.0,392.7 427.0,391.3 429.0,393.6 431.0,395.6 433.0,397.4 434.4,402.3 436.0,397.1 437.0,391.8 438.4,398.4 440.0,395.9 442.0,397.3 444.0,395.3 446.0,397.1 448.0,395.8 450.0,397.8 452.0,396.1 454.0,398.1 456.0,396.7 458.0,399.2 460.0,400.4 462.0,398.1 464.0,400.6 466.0,398.7 468.0,401.4 470.0,399.4 472.0,402.6 473.6,397.3 475.0,401.0 476.4,398.3 478.0,402.2 480.0,405.0 482.0,402.4 484.0,404.0 486.0,404.5 488.0,400.5 490.0,398.0 491.6,403.4 493.0,407.5 494.4,398.4 496.0,399.5 498.5,399.6" fill="none" stroke="#000000" stroke-width="2.5" stroke-linejoin="round" stroke-linecap="butt"/>
<polyline points="41.3,448.0 43.0,446.2 44.6,444.0 46.5,446.4 48.4,442.9 50.3,445.4 52.2,442.4 54.1,445.7 56.0,441.9 58.0,444.4 60.0,441.2 62.0,444.5 64.0,442.2 66.0,445.4 68.0,440.5 70.0,442.9 72.0,441.3 74.4,448.8 76.3,441.5 78.2,443.8 80.2,440.0 82.0,443.4 84.0,441.1 86.0,444.3 88.0,439.7 90.0,442.9 92.0,440.6 94.0,443.5 96.0,438.9 98.0,441.9 100.3,447.4 102.2,440.6 104.0,442.9 106.0,439.2 108.0,441.9 110.0,438.9 112.0,442.1 114.0,438.3 116.0,440.9 118.0,438.6 120.0,441.4 122.4,449.9 124.5,440.0 126.7,432.1 128.6,440.9 130.5,437.6 132.5,441.5 134.5,437.4 136.5,440.6 138.5,436.8 140.5,440.0 142.5,437.0 144.5,440.1 146.5,436.4 148.5,439.5 150.0,438.0 152.4,436.4 154.8,439.3 157.2,435.8 159.6,438.6 162.0,435.0 164.4,437.9 166.8,434.4 169.2,436.9 171.6,433.4 174.0,435.3 176.4,432.0 178.8,434.5 181.2,431.7 183.6,431.2 186.0,430.2 188.4,432.2 190.8,431.5 193.2,433.1 195.6,430.5 198.0,431.8 200.4,429.8 202.8,431.2 205.2,428.9 207.6,429.9 210.0,427.3 212.4,428.7 214.8,426.4 217.2,427.5 219.6,425.0 222.0,426.4 224.4,424.2 226.8,422.5 229.2,424.0 231.6,421.9 234.0,421.3 236.4,420.0 238.8,418.8 241.2,418.1 242.6,416.5 243.0,415.9 243.6,415.0 244.3,413.9 245.0,412.8 245.7,411.8 246.4,410.7 247.2,409.5 247.9,408.0 248.6,406.2 249.3,404.2 250.0,402.1 250.6,400.0 251.2,398.0 251.8,396.0 252.4,394.0 253.0,392.0 253.7,390.0 254.5,388.0 255.3,386.0 256.2,384.0 257.1,381.9 258.1,379.8 259.2,377.8 260.2,376.0 261.2,374.5 262.3,373.2 263.3,372.1 264.2,371.2 265.0,370.6 265.6,370.2 266.2,369.9 266.8,369.7 267.4,369.5 267.9,369.4 268.4,369.3 269.0,369.3 269.6,369.3 270.2,369.4 270.8,369.5 271.4,369.7 272.0,369.9 272.6,370.2 273.1,370.6 273.8,371.2 274.5,372.1 275.3,373.2 276.2,374.5 277.0,376.0 277.9,377.8 278.8,379.8 279.7,381.9 280.5,384.0 281.3,386.0 282.0,388.0 282.7,390.0 283.4,392.0 284.0,394.0 284.6,396.0 285.2,398.0 285.8,400.0 286.4,402.1 287.1,404.2 287.7,406.2 288.5,408.0 289.3,409.5 290.3,410.7 291.2,411.8 292.2,412.8 293.3,413.8 294.4,414.7 295.5,415.5 296.2,416.0 298.2,416.6 300.6,417.6 303.0,418.7 305.4,420.6 307.8,422.0 310.2,423.1 312.6,423.7 315.0,425.1 317.4,423.3 319.8,425.4 322.2,423.9 324.6,426.9 327.0,425.8 329.4,428.8 331.8,426.9 334.2,429.9 336.6,428.3 339.0,431.3 341.4,428.9 343.8,427.9 346.2,431.7 348.6,429.9 351.0,432.2 353.4,433.7 355.8,431.4 358.2,432.6 360.6,430.3 363.0,433.3 365.4,432.2 367.8,434.6 370.2,435.0 372.6,437.5 375.0,433.6 377.0,435.7 379.0,432.4 381.0,436.4 383.0,433.7 385.0,436.9 387.0,433.6 389.0,437.5 391.0,434.1 393.0,436.7 395.0,434.7 397.0,438.0 399.0,435.3 400.0,435.9 402.0,434.6 404.0,438.2 406.0,436.2 408.0,440.5 410.0,436.8 412.0,438.4 414.0,437.3 416.0,439.0 418.0,440.0 420.0,442.3 422.0,440.2 424.0,443.2 426.0,440.7 428.0,443.8 430.0,445.6 432.0,440.8 434.0,443.2 435.6,435.9 437.2,444.0 439.0,440.8 441.0,446.8 442.4,439.5 444.0,445.5 446.0,441.9 448.0,439.6 450.0,442.5 452.0,440.9 454.0,442.0 456.0,441.5 458.0,443.1 460.0,442.2 462.0,443.6 464.0,443.9 465.6,448.7 467.0,442.5 468.4,447.3 470.0,445.0 471.6,448.7 473.0,442.7 474.4,440.4 476.0,444.0 477.6,441.6 479.2,445.0 481.0,443.6 483.0,448.3 485.0,450.6 487.0,449.4 489.0,447.0 491.0,444.7 493.0,446.2 495.0,443.9 497.0,442.8 499.0,440.5" fill="none" stroke="#8e00cc" stroke-width="2.5" stroke-linejoin="round" stroke-linecap="butt"/>
<polyline points="40.3,514.4 42.0,506.0 44.4,508.4 46.8,506.0 49.2,509.6 51.6,504.8 54.0,508.4 56.4,507.2 58.8,503.6 61.2,506.0 62.9,502.4 64.8,503.6 66.7,502.4 68.4,509.6 70.1,515.6 71.5,508.4 73.2,501.2 74.9,507.2 76.8,508.4 78.7,515.6 80.6,514.4 82.6,508.4 84.0,507.2 85.9,502.4 87.8,501.2 89.8,504.8 91.2,508.4 92.6,515.6 94.1,506.0 96.0,502.4 97.9,509.6 99.4,502.4 100.8,501.2 102.7,510.8 104.6,514.4 106.1,510.8 107.5,501.2 109.2,503.6 110.9,513.2 112.8,508.4 114.7,510.8 116.6,508.4 118.6,509.6 120.5,508.4 122.4,510.8 124.3,503.6 126.2,502.4 128.2,508.4 129.6,515.6 131.5,514.4 133.2,506.0 134.9,502.4 136.8,501.2 138.7,504.8 140.2,502.4 142.1,503.6 144.0,502.4 145.4,509.6 146.9,503.6 148.3,502.4 149.8,513.2 151.2,515.6 153.1,506.0 155.3,502.8 157.2,505.2 159.1,512.4 160.8,505.2 162.5,502.8 164.4,507.6 166.3,501.6 168.2,508.8 170.2,504.0 171.6,501.6 173.5,512.4 175.2,516.0 176.9,506.4 178.8,508.8 180.7,498.0 182.4,504.0 184.1,510.0 186.0,501.6 188.0,507.6 189.6,496.8 191.3,501.6 193.2,496.8 194.6,514.8 196.1,516.0 197.5,501.6 199.2,493.2 200.9,498.0 202.8,494.4 204.7,500.4 206.6,495.6 208.6,504.0 210.5,495.6 212.4,493.2 214.3,496.8 216.2,493.9 218.2,492.0 220.1,495.6 222.0,499.2 223.9,493.2 225.8,494.4 227.8,490.8 229.7,492.0 231.6,489.6 233.5,490.8 235.4,488.4 236.2,487.0 236.7,485.6 237.4,483.5 238.1,481.2 238.9,479.0 239.6,477.0 240.3,475.0 241.1,473.0 241.8,471.0 242.5,469.0 243.3,467.0 244.0,465.0 244.7,463.0 245.4,461.0 246.0,459.0 246.7,457.0 247.4,455.0 248.2,452.9 249.1,450.7 249.9,448.7 250.6,447.0 251.1,445.9 251.4,445.2 251.8,444.6 252.2,443.8 252.7,442.8 253.2,441.7 253.8,440.5 254.6,439.0 255.7,437.1 256.9,435.0 258.2,432.8 259.4,431.0 260.5,429.5 261.5,428.2 262.5,427.1 263.4,426.2 264.3,425.5 265.1,425.0 265.8,424.6 266.6,424.3 267.3,424.1 268.0,424.1 268.7,424.1 269.4,424.1 270.1,424.1 270.8,424.1 271.5,424.1 272.2,424.3 272.8,424.6 273.3,425.0 273.9,425.5 274.6,426.2 275.4,427.1 276.2,428.2 277.3,429.5 278.6,431.0 280.4,432.9 282.6,435.0 284.7,437.2 286.6,439.0 288.1,440.5 289.4,441.7 290.4,442.8 291.4,443.8 292.1,444.6 292.6,445.2 293.1,445.9 293.8,447.0 294.7,448.7 295.8,450.7 296.8,452.9 297.8,455.0 298.7,457.0 299.5,459.0 300.2,461.0 301.0,463.0 301.7,465.0 302.4,467.0 303.1,469.0 303.9,471.0 305.0,473.2 306.2,475.5 307.4,477.6 308.2,479.0 309.2,480.0 311.6,483.1 314.0,486.0 316.4,487.2 318.3,492.0 320.2,486.0 322.2,490.8 324.1,494.4 326.0,495.6 327.9,492.0 329.8,493.2 331.8,498.0 333.7,506.4 335.6,493.2 337.5,492.0 339.4,496.8 341.4,499.2 343.3,495.6 345.2,506.4 347.1,494.4 349.0,501.6 351.0,502.3 352.9,501.6 354.8,501.6 356.7,502.8 358.6,501.6 360.6,499.2 362.5,501.6 364.4,506.4 366.3,507.6 367.8,516.0 369.7,516.0 371.1,504.0 373.0,500.4 375.0,499.2 376.9,505.2 378.8,500.4 380.7,501.6 382.2,516.0 383.6,494.4 385.0,516.0 386.5,514.8 387.9,508.8 389.8,506.4 391.8,499.2 393.7,504.0 395.6,506.4 397.5,505.2 399.4,502.0 402.0,501.0 403.6,508.0 405.0,516.0 406.4,512.0 408.0,500.0 410.0,499.0 411.6,507.0 413.2,510.0 414.8,516.0 416.4,508.0 418.0,506.0 419.6,509.0 421.0,499.0 422.4,498.0 424.0,506.0 425.6,510.0 427.0,516.0 428.4,509.0 430.0,505.0 431.6,509.0 433.2,514.0 434.8,516.0 436.4,508.0 438.0,506.0 439.6,509.0 441.2,515.0 442.4,516.0 444.0,508.0 445.6,505.0 446.8,515.0 448.0,516.0 449.2,507.0 450.4,506.0 451.6,515.0 452.8,507.0 454.0,505.0 455.2,507.0 456.4,505.0 457.6,514.0 458.8,515.6 467.0,515.6 468.4,511.0 470.0,512.0 471.2,516.0 475.6,516.0 476.8,507.0 478.0,503.0 479.6,502.0 481.2,507.0 482.8,508.0 484.4,507.0 486.0,509.0 487.6,505.0 489.2,510.0 490.8,514.0 492.4,511.0 494.0,514.0 495.6,513.0 498.3,514.0" fill="none" stroke="#0000fa" stroke-width="2.5" stroke-linejoin="round" stroke-linecap="butt"/>
<polyline points="41.3,598.4 54.7,598.4 56.4,592.8 58.8,591.6 60.5,596.4 61.9,598.4 63.6,594.0 65.3,592.8 66.7,597.6 68.4,591.6 70.1,596.4 72.0,589.2 73.4,588.0 74.9,594.0 76.3,598.4 78.0,591.6 79.7,590.4 81.6,596.4 83.5,598.4 85.2,594.0 86.9,597.6 88.8,594.0 90.7,591.6 92.6,596.4 94.6,586.8 96.0,594.0 97.4,585.6 98.9,591.6 100.3,586.8 101.8,585.6 103.2,591.6 104.6,588.0 106.1,594.0 107.5,598.4 109.0,590.4 110.4,586.8 111.8,582.0 113.3,579.6 114.7,584.4 116.2,580.8 117.6,588.0 119.0,584.4 120.5,583.2 121.9,598.4 123.4,586.8 124.8,594.0 126.2,584.4 127.7,578.4 129.1,579.6 130.6,584.4 132.0,591.6 133.4,586.8 134.9,583.2 136.8,584.4 138.7,583.2 140.6,585.6 142.6,584.4 144.5,582.0 146.4,584.4 148.3,580.8 150.2,577.5 152.4,580.4 154.8,575.6 157.2,578.0 159.6,573.2 162.0,576.8 163.9,578.0 165.8,582.8 167.8,576.8 169.7,578.7 171.6,575.6 173.5,578.0 175.4,574.4 177.4,576.8 179.3,572.0 181.2,573.2 183.1,569.1 185.0,570.8 187.0,568.4 188.9,569.1 190.8,567.2 193.2,566.0 195.6,565.3 198.0,563.6 200.4,561.2 202.8,560.5 205.2,558.8 207.6,557.6 210.0,556.4 212.4,554.7 214.8,554.0 217.2,552.3 219.6,551.6 222.0,550.4 224.4,549.2 226.8,548.0 229.2,546.8 231.6,545.6 234.0,544.4 237.0,542.8 237.9,542.0 239.3,540.9 240.9,539.5 242.6,538.0 244.5,536.2 246.6,534.2 248.7,532.1 250.6,530.0 252.1,528.0 253.5,526.0 254.7,524.0 255.9,522.0 257.1,519.9 258.1,517.8 259.2,515.8 260.2,514.0 261.2,512.5 262.1,511.2 263.1,510.1 263.9,509.2 264.7,508.5 265.3,508.1 266.0,507.7 266.6,507.5 267.2,507.3 267.8,507.3 268.4,507.3 269.0,507.3 269.6,507.3 270.2,507.3 270.8,507.3 271.4,507.5 271.9,507.7 272.4,508.1 272.9,508.5 273.5,509.2 274.1,510.1 274.8,511.2 275.5,512.5 276.2,514.0 277.0,515.8 277.8,517.8 278.6,519.9 279.4,522.0 280.1,524.0 280.6,526.0 281.2,528.0 281.8,530.0 282.4,532.1 283.0,534.2 283.7,536.2 284.2,538.0 284.7,539.5 285.1,540.7 285.4,541.8 285.8,542.8 286.1,543.6 286.5,544.2 286.8,544.9 287.4,546.0 288.2,547.7 289.1,549.7 290.2,551.9 291.4,554.0 292.9,556.1 294.6,558.3 296.3,560.3 297.8,562.0 298.9,563.1 299.9,563.9 300.7,564.5 301.8,565.2 303.2,566.1 304.8,567.0 306.4,567.8 307.4,568.4 310.2,568.9 312.6,570.6 315.0,569.9 316.9,573.0 318.8,577.8 320.8,576.6 322.7,582.6 324.6,577.8 326.5,580.2 328.4,579.0 330.4,580.2 332.3,576.6 334.2,580.2 336.1,581.9 338.0,580.2 340.0,576.6 341.9,581.4 343.8,579.0 345.7,585.0 347.2,592.2 348.6,585.0 350.5,577.8 352.4,581.4 354.4,576.6 356.3,585.0 358.2,587.4 360.1,586.2 362.0,587.4 364.0,586.2 365.9,582.6 367.8,587.4 369.7,586.2 371.6,585.0 373.1,580.5 374.7,597.0 376.3,596.1 378.5,582.6 380.7,581.3 382.3,592.1 383.9,598.4 386.1,586.7 387.7,582.6 389.3,589.4 390.9,581.3 392.5,586.7 394.2,598.4 395.8,582.6 397.4,580.0 399.6,585.3 401.7,598.4 403.3,590.7 405.0,586.7 407.1,590.7 409.3,588.0 411.4,598.4 413.1,598.4 414.7,589.4 416.3,588.0 417.9,594.8 419.5,598.4 421.2,589.4 422.8,598.4 424.4,589.4 426.0,598.4 427.6,589.4 429.3,598.4 431.4,598.4 433.6,588.0 435.2,588.0 436.8,598.4 439.0,598.4 441.1,588.0 443.3,588.0 444.9,594.8 446.5,592.1 448.2,598.4 449.8,593.4 451.4,590.7 453.0,598.4 454.6,593.4 456.3,598.4 460.0,598.4 461.7,590.7 463.8,589.4 465.4,598.4 467.1,598.4 468.7,593.4 470.3,598.4 481.6,598.4 483.3,590.7 484.9,588.0 486.5,598.4 489.2,598.4 490.8,593.4 492.4,598.4 494.6,594.8 496.8,596.1 498.6,596.1" fill="none" stroke="#ff3705" stroke-width="2.5" stroke-linejoin="round" stroke-linecap="butt"/>
<text transform="translate(57.0 36.1) scale(1.04 1)" font-size="29.5" fill="#000" stroke="#000" stroke-width="0.22" font-weight="bold">(a)</text>
<text transform="translate(103.2 36.5) scale(1.03 1)" font-size="29.5" fill="#000" stroke="#000" stroke-width="0.22">twist + tilt</text>
<text transform="translate(57.0 338.1) scale(1.04 1)" font-size="29.5" fill="#000" stroke="#000" stroke-width="0.22" font-weight="bold">(b)</text>
<text transform="translate(102 338.4) scale(1.03 1)" font-size="29.5" fill="#000" stroke="#000" stroke-width="0.22">tilt</text>
<text transform="translate(390.2 48.9) scale(1.054 1)" font-size="29.5" fill="#000" stroke="#000" stroke-width="0.22">(1012)</text>
<path d="M439.4 21.8H450.2" stroke="#000" stroke-width="2.0"/>
<text transform="translate(391.0 345.8) scale(1.045 1)" font-size="29.5" fill="#000" stroke="#000" stroke-width="0.22">(0002)</text>
<text x="57.7" y="91.2" font-size="22.0" fill="#000000" stroke="#000000" stroke-width="0.22" textLength="147" lengthAdjust="spacingAndGlyphs">ZnO substrate</text>
<text x="57.6" y="147.3" font-size="22.0" fill="#8e00cc" stroke="#8e00cc" stroke-width="0.22" textLength="129.8" lengthAdjust="spacingAndGlyphs">ZnO epilayer</text>
<text x="56.6" y="378.2" font-size="22.0" fill="#000000" stroke="#000000" stroke-width="0.22" textLength="147" lengthAdjust="spacingAndGlyphs">ZnO substrate</text>
<text x="58.6" y="426.6" font-size="22.0" fill="#8e00cc" stroke="#8e00cc" stroke-width="0.22" textLength="129.8" lengthAdjust="spacingAndGlyphs">ZnO epilayer</text>
<text x="58.0" y="192.6" font-size="22.0" fill="#0000fa" stroke="#0000fa" stroke-width="0.22" textLength="31.2" lengthAdjust="spacingAndGlyphs">Mg</text>
<text x="90.0" y="198.4" font-size="15.2" fill="#0000fa" stroke="#0000fa" stroke-width="0.22" textLength="30.2" lengthAdjust="spacingAndGlyphs">0.08</text>
<text x="120.0" y="192.6" font-size="22.0" fill="#0000fa" stroke="#0000fa" stroke-width="0.22" textLength="26.8" lengthAdjust="spacingAndGlyphs">Zn</text>
<text x="146.9" y="198.4" font-size="15.2" fill="#0000fa" stroke="#0000fa" stroke-width="0.22" textLength="30.2" lengthAdjust="spacingAndGlyphs">0.92</text>
<text x="178.0" y="192.6" font-size="22.0" fill="#0000fa" stroke="#0000fa" stroke-width="0.22" textLength="68.4" lengthAdjust="spacingAndGlyphs">O/ZnO</text>
<text x="58.0" y="252.0" font-size="22.0" fill="#ff3705" stroke="#ff3705" stroke-width="0.22" textLength="31.2" lengthAdjust="spacingAndGlyphs">Mg</text>
<text x="90.0" y="257.8" font-size="15.2" fill="#ff3705" stroke="#ff3705" stroke-width="0.22" textLength="30.2" lengthAdjust="spacingAndGlyphs">0.19</text>
<text x="120.0" y="252.0" font-size="22.0" fill="#ff3705" stroke="#ff3705" stroke-width="0.22" textLength="26.8" lengthAdjust="spacingAndGlyphs">Zn</text>
<text x="146.9" y="257.8" font-size="15.2" fill="#ff3705" stroke="#ff3705" stroke-width="0.22" textLength="30.2" lengthAdjust="spacingAndGlyphs">0.81</text>
<text x="178.0" y="252.0" font-size="22.0" fill="#ff3705" stroke="#ff3705" stroke-width="0.22" textLength="68.4" lengthAdjust="spacingAndGlyphs">O/ZnO</text>
<text x="54.0" y="468.2" font-size="22.0" fill="#0000fa" stroke="#0000fa" stroke-width="0.22" textLength="31.2" lengthAdjust="spacingAndGlyphs">Mg</text>
<text x="86.0" y="474.0" font-size="15.2" fill="#0000fa" stroke="#0000fa" stroke-width="0.22" textLength="30.2" lengthAdjust="spacingAndGlyphs">0.08</text>
<text x="116.0" y="468.2" font-size="22.0" fill="#0000fa" stroke="#0000fa" stroke-width="0.22" textLength="26.8" lengthAdjust="spacingAndGlyphs">Zn</text>
<text x="142.9" y="474.0" font-size="15.2" fill="#0000fa" stroke="#0000fa" stroke-width="0.22" textLength="30.2" lengthAdjust="spacingAndGlyphs">0.92</text>
<text x="174.0" y="468.2" font-size="22.0" fill="#0000fa" stroke="#0000fa" stroke-width="0.22" textLength="68.4" lengthAdjust="spacingAndGlyphs">O/ZnO</text>
<text x="54.0" y="537.0" font-size="22.0" fill="#ff3705" stroke="#ff3705" stroke-width="0.22" textLength="31.2" lengthAdjust="spacingAndGlyphs">Mg</text>
<text x="86.0" y="542.8" font-size="15.2" fill="#ff3705" stroke="#ff3705" stroke-width="0.22" textLength="30.2" lengthAdjust="spacingAndGlyphs">0.19</text>
<text x="116.0" y="537.0" font-size="22.0" fill="#ff3705" stroke="#ff3705" stroke-width="0.22" textLength="26.8" lengthAdjust="spacingAndGlyphs">Zn</text>
<text x="142.9" y="542.8" font-size="15.2" fill="#ff3705" stroke="#ff3705" stroke-width="0.22" textLength="30.2" lengthAdjust="spacingAndGlyphs">0.81</text>
<text x="174.0" y="537.0" font-size="22.0" fill="#ff3705" stroke="#ff3705" stroke-width="0.22" textLength="68.4" lengthAdjust="spacingAndGlyphs">O/ZnO</text>
<text x="464.2" y="90.8" font-size="22.0" fill="#000000" stroke="#000000" stroke-width="0.22" text-anchor="end" textLength="111.5" lengthAdjust="spacingAndGlyphs">FWHM 10"</text>
<text x="465.2" y="146.8" font-size="22.0" fill="#8e00cc" stroke="#8e00cc" stroke-width="0.22" text-anchor="end" textLength="32.5" lengthAdjust="spacingAndGlyphs">11"</text>
<text x="465.2" y="209.9" font-size="22.0" fill="#0000fa" stroke="#0000fa" stroke-width="0.22" text-anchor="end" textLength="32.5" lengthAdjust="spacingAndGlyphs">15"</text>
<text x="465.2" y="276.3" font-size="22.0" fill="#ff3705" stroke="#ff3705" stroke-width="0.22" text-anchor="end" textLength="32.5" lengthAdjust="spacingAndGlyphs">13"</text>
<text x="465" y="379.4" font-size="22.0" fill="#000000" stroke="#000000" stroke-width="0.22" text-anchor="end" textLength="111.5" lengthAdjust="spacingAndGlyphs">FWHM 16"</text>
<text x="466" y="426.2" font-size="22.0" fill="#8e00cc" stroke="#8e00cc" stroke-width="0.22" text-anchor="end" textLength="32.5" lengthAdjust="spacingAndGlyphs">15"</text>
<text x="465.2" y="491" font-size="22.0" fill="#0000fa" stroke="#0000fa" stroke-width="0.22" text-anchor="end" textLength="32.5" lengthAdjust="spacingAndGlyphs">17"</text>
<text x="463.2" y="578" font-size="22.0" fill="#ff3705" stroke="#ff3705" stroke-width="0.22" text-anchor="end" textLength="32.5" lengthAdjust="spacingAndGlyphs">15"</text>
<text transform="translate(77.0 626.6) scale(1.06 1)" font-size="24.6" fill="#000" stroke="#000" stroke-width="0.22" text-anchor="middle">-0.05</text>
<text transform="translate(269.3 626.6) scale(1.055 1)" font-size="24.6" fill="#000" stroke="#000" stroke-width="0.22" text-anchor="middle">0.00</text>
<text transform="translate(460.2 626.6) scale(1.055 1)" font-size="24.6" fill="#000" stroke="#000" stroke-width="0.22" text-anchor="middle">0.05</text>
<text transform="translate(221.8 658) scale(1.10 1)" font-size="30" stroke="#000" stroke-width="0.55" font-family='"Liberation Serif", "Times New Roman", serif'>Δω</text>
<text transform="translate(271.0 661.3) scale(1.02 1)" font-size="30.7" fill="#000" stroke="#000" stroke-width="0.22">(°)</text>
<text transform="translate(23.4,443.6) rotate(-90)" font-size="31.3" stroke="#000" stroke-width="0.22">INTENSITY (arb. units)</text>
</svg>
</body></html>
